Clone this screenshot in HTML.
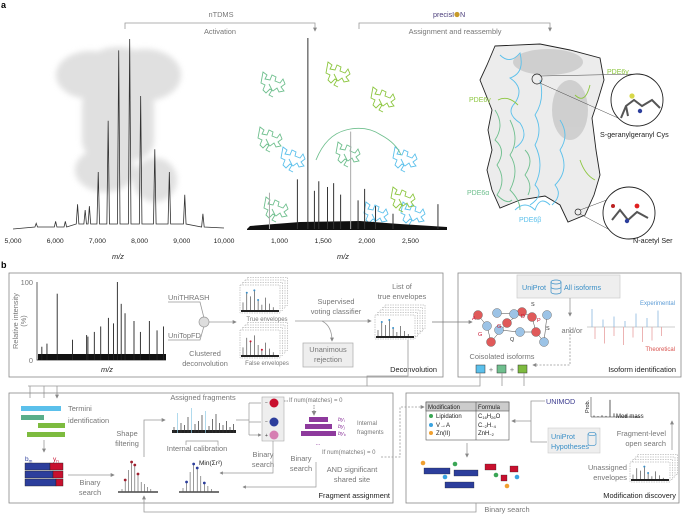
<!DOCTYPE html>
<html><head><meta charset="utf-8">
<style>
html,body{margin:0;padding:0;background:#fff;}
svg{display:block;font-family:"Liberation Sans",sans-serif;}
.t{fill:#777;font-size:7.4px;}
.d{fill:#222;font-size:7.4px;}
</style></head>
<body>
<svg id="fig" width="685" height="515" viewBox="0 0 685 515" xmlns="http://www.w3.org/2000/svg">
<defs>
<filter id="blur" x="-20%" y="-20%" width="140%" height="140%"><feGaussianBlur stdDeviation="3"/></filter>
<marker id="ar" viewBox="0 0 6 6" refX="5" refY="3" markerWidth="5" markerHeight="5" orient="auto"><path d="M0,0L6,3L0,6z" fill="#888"/></marker>
</defs>

<!-- ============ PANEL A ============ -->
<text x="1" y="8" font-size="9" font-weight="bold" fill="#000">a</text>
<g>
<text x="221" y="17" class="t" text-anchor="middle">nTDMS</text>
<path d="M125,29V23H315V31" fill="none" stroke="#999" stroke-width="0.8" marker-end="url(#ar)"/>
<text x="220" y="34" class="t" text-anchor="middle">Activation</text>
</g>
<g>
<text x="433" y="17" font-size="7.2" fill="#4a3d7a">precisI</text><circle cx="457" cy="14.5" r="2.6" fill="#c79a2a"/><text x="460" y="17" font-size="7.2" fill="#4a3d7a">N</text>
<path d="M359,29V23H550V31" fill="none" stroke="#999" stroke-width="0.8" marker-end="url(#ar)"/>
<text x="455" y="34" class="t" text-anchor="middle">Assignment and reassembly</text>
</g>

<!-- blurred protein behind spectrum -->
<g filter="url(#blur)" fill="#d6d6d6" opacity="0.75">
<ellipse cx="90" cy="75" rx="34" ry="24"/><ellipse cx="145" cy="75" rx="36" ry="26"/>
<ellipse cx="118" cy="65" rx="30" ry="18"/>
<rect x="82" y="85" width="72" height="75" rx="20"/>
<ellipse cx="105" cy="170" rx="30" ry="22"/><ellipse cx="155" cy="180" rx="22" ry="22"/>
</g>
<g id="specA1"></g>
<g id="axA1"></g>
<text x="118" y="259" class="d" font-style="italic" text-anchor="middle">m/z</text>

<g id="mols" fill="none" stroke-width="0.9"></g>
<g id="specA2"></g>
<g id="axA2"></g>
<text x="343" y="259" class="d" font-style="italic" text-anchor="middle">m/z</text>

<!-- reassembled structure -->
<g>
<path d="M495,46 L540,44 L570,50 L600,58 L604,80 L598,100 L592,118 L596,150 L600,175 L594,195 L585,215 L568,222 L560,205 L545,196 L520,200 L500,208 L492,190 L487,170 L492,150 L488,130 L492,110 L486,95 L480,80 L487,65 Z" fill="#ececec" stroke="#222" stroke-width="0.9"/>
<g fill="#c4c4c4" opacity="0.7"><ellipse cx="548" cy="62" rx="35" ry="13"/><ellipse cx="570" cy="110" rx="18" ry="30"/></g>
<g stroke="#5bc0eb" stroke-width="0.9" fill="none">
<path d="M500,55 q10,10 20,-2 q5,20 -10,25 q15,10 5,25 q-10,10 5,20 q10,15 -5,25 M540,80 q5,20 -5,35 q8,15 0,30 q10,20 0,40 q10,10 -5,20 M560,120 q10,15 0,30 q10,20 -5,35 q8,10 -3,20 M515,210 q10,-10 20,0 q5,-15 15,-5"/>
</g>
<g stroke="#6fbf8e" stroke-width="0.9" fill="none">
<path d="M495,110 q10,15 0,30 q12,10 2,25 q10,15 0,30 q10,10 15,5 M510,120 q10,20 0,35 q10,15 0,35 q10,10 10,20 M525,150 q10,10 0,25 q8,10 3,20"/>
</g>
<g stroke="#8cc63f" stroke-width="0.9" fill="none"><path d="M575,95 q10,10 15,-10 M580,160 q5,15 15,20 M498,100 q10,-5 20,5"/></g>
<text x="607" y="74" font-size="7" fill="#8cc63f">PDE6γ</text>
<text x="469" y="102" font-size="7" fill="#8cc63f">PDE6γ</text>
<text x="467" y="195" font-size="7" fill="#6fbf8e">PDE6α</text>
<text x="519" y="222" font-size="7" fill="#5bc0eb">PDE6β</text>
<circle cx="537" cy="79" r="5" fill="none" stroke="#222" stroke-width="0.7"/>
<path d="M540,76 L640,74 M540,83 L618,118" stroke="#444" stroke-width="0.5"/>
<circle cx="637" cy="100" r="26" fill="#fff" stroke="#222" stroke-width="0.9"/>
<g stroke="#555" stroke-width="2" fill="none"><path d="M621,118 L626,106 L634,100 L642,106 L652,100 L660,108"/><path d="M626,106 L628,116"/></g>
<circle cx="632" cy="96" r="2.6" fill="#d8d84a"/><circle cx="640" cy="111" r="2.2" fill="#2c3e9c"/>
<text x="600" y="137" font-size="7.2" fill="#222">S-geranylgeranyl Cys</text>
<circle cx="578" cy="212" r="3" fill="none" stroke="#222" stroke-width="0.7"/>
<path d="M580,210 L620,195 M580,214 L625,238" stroke="#444" stroke-width="0.5"/>
<circle cx="629" cy="213" r="26" fill="#fff" stroke="#222" stroke-width="0.9"/>
<g stroke="#555" stroke-width="2" fill="none"><path d="M612,220 L620,210 L628,220 L637,212 L648,218"/></g>
<circle cx="637" cy="206" r="2.4" fill="#e02020"/><circle cx="627" cy="221" r="2.2" fill="#2c3e9c"/><circle cx="613" cy="206" r="2" fill="#b22"/>
<text x="633" y="243" font-size="7.2" fill="#222">N-acetyl Ser</text>
</g>

<!-- ============ PANEL B ============ -->
<text x="1" y="268" font-size="9" font-weight="bold" fill="#000">b</text>

<g>
<rect x="9" y="273" width="434" height="104" fill="none" stroke="#888" stroke-width="0.8"/>
<text x="437" y="372" class="d" text-anchor="end">Deconvolution</text>
<text transform="translate(18,321) rotate(-90)" class="t" text-anchor="middle">Relative intensity</text>
<text transform="translate(26,321) rotate(-90)" class="t" text-anchor="middle">(%)</text>
<text x="33" y="285" class="t" text-anchor="end">100</text>
<text x="33" y="363" class="t" text-anchor="end">0</text>
<text x="107" y="372" class="d" font-style="italic" text-anchor="middle">m/z</text>
<g id="specB"></g>
<path d="M168,302H200L204,318 M168,340H200L204,326" stroke="#999" fill="none" stroke-width="0.8"/>
<text x="168" y="300" class="t">UniTHRASH</text>
<text x="168" y="338" class="t">UniTopFD</text>
<circle cx="204" cy="322" r="5" fill="#ddd" stroke="#999" stroke-width="0.7"/>
<path d="M209,322H236" stroke="#999" stroke-width="0.8" marker-end="url(#ar)"/>
<text x="205" y="356" class="t" text-anchor="middle">Clustered</text>
<text x="205" y="366" class="t" text-anchor="middle">deconvolution</text>
<g id="envTrue"></g>
<text x="267" y="321" font-size="6" fill="#777" text-anchor="middle">True envelopes</text>
<g id="envFalse"></g>
<text x="267" y="365" font-size="6" fill="#777" text-anchor="middle">False envelopes</text>
<text x="336" y="304" class="t" text-anchor="middle">Supervised</text>
<text x="336" y="314" class="t" text-anchor="middle">voting classifier</text>
<path d="M295,321H371" stroke="#999" stroke-width="0.8" marker-end="url(#ar)"/>
<path d="M322,321Q332,326 332,341" stroke="#999" fill="none" stroke-width="0.8" marker-end="url(#ar)"/>
<rect x="303" y="343" width="50" height="24" fill="#eee" stroke="#aaa" stroke-width="0.7"/>
<text x="328" y="352" class="t" text-anchor="middle">Unanimous</text>
<text x="328" y="362" class="t" text-anchor="middle">rejection</text>
<text x="402" y="289" class="t" text-anchor="middle">List of</text>
<text x="402" y="299" class="t" text-anchor="middle">true envelopes</text>
<g id="envList"></g>
<path d="M432,322H472" stroke="#777" stroke-width="0.8" marker-end="url(#ar)"/>
</g>

<g>
<rect x="458" y="273" width="223" height="104" fill="none" stroke="#888" stroke-width="0.8"/>
<text x="676" y="372" class="d" text-anchor="end">Isoform identification</text>
<rect x="517" y="275" width="103" height="23" fill="#eee" stroke="#ccc" stroke-width="0.7"/>
<text x="522" y="290" font-size="7.2" fill="#3a8fc7">UniProt</text>
<ellipse cx="556" cy="282" rx="5" ry="2" fill="none" stroke="#3a8fc7" stroke-width="0.7"/>
<path d="M551,282V292A5,2 0 0 0 561,292V282M551,287A5,2 0 0 0 561,287" fill="none" stroke="#3a8fc7" stroke-width="0.7"/>
<text x="564" y="290" font-size="7.2" fill="#3a8fc7">All isoforms</text>
<path d="M570,298V316" stroke="#999" stroke-width="0.8" marker-end="url(#ar)"/>
<path d="M570,327V365H533" stroke="#999" stroke-dasharray="2,1.5" fill="none" stroke-width="0.8" marker-end="url(#ar)"/>
<text x="572" y="333" class="t" text-anchor="middle">and/or</text>
<g id="graph"></g>
<g id="mirror"></g>
<text x="675" y="305" font-size="6" fill="#5b9bd5" text-anchor="end">Experimental</text>
<text x="675" y="351" font-size="6" fill="#d9534f" text-anchor="end">Theoretical</text>
<text x="502" y="359" class="t" text-anchor="middle">Coisolated isoforms</text>
<rect x="476" y="365" width="9" height="8" fill="#5bc0eb" stroke="#333" stroke-width="0.5"/>
<text x="491" y="372" class="t" text-anchor="middle">+</text>
<rect x="497" y="365" width="9" height="8" fill="#6fbf8e" stroke="#333" stroke-width="0.5"/>
<text x="512" y="372" class="t" text-anchor="middle">+</text>
<rect x="518" y="365" width="9" height="8" fill="#7dbb3f" stroke="#333" stroke-width="0.5"/>
</g>

<g stroke="#999" stroke-width="0.8" fill="none">
<path d="M408,340V376H367V386H28"/>
<path d="M480,373V386H367 M502,373V386 M524,373V386"/>
<path d="M30,386V398 M44,386V398 M57,386V398" marker-end="url(#ar)"/>
</g>

<g>
<rect x="9" y="393" width="384" height="110" fill="none" stroke="#888" stroke-width="0.8"/>
<text x="390" y="498" class="d" text-anchor="end">Fragment assignment</text>
<rect x="21" y="406" width="40" height="5" fill="#5bc0eb"/>
<rect x="21" y="415" width="23" height="5" fill="#5aae8a"/>
<rect x="38" y="423" width="27" height="5" fill="#7dbb3f"/>
<rect x="27" y="432" width="38" height="5" fill="#7dbb3f"/>
<text x="68" y="411" class="t">Termini</text>
<text x="68" y="423" class="t">identification</text>
<path d="M44,440V452" stroke="#999" stroke-width="0.8" marker-end="url(#ar)"/>
<text x="25" y="461" font-size="6.5" fill="#2c3e9c">b<tspan font-size="4.5" dy="1.5">m</tspan></text>
<text x="53" y="461" font-size="6.5" fill="#c8102e">y<tspan font-size="4.5" dy="1.5">n</tspan></text>
<g stroke="#222" stroke-width="0.4">
<rect x="25" y="463" width="25" height="7" fill="#2c3e9c"/><rect x="50" y="463" width="13" height="7" fill="#c8102e"/>
<rect x="25" y="471" width="28" height="7" fill="#2c3e9c"/><rect x="53" y="471" width="10" height="7" fill="#c8102e"/>
<rect x="25" y="479" width="31" height="7" fill="#2c3e9c"/><rect x="56" y="479" width="7" height="7" fill="#c8102e"/>
</g>
<path d="M68,475H114" stroke="#999" stroke-width="0.8" marker-end="url(#ar)"/>
<text x="90" y="485" class="t" text-anchor="middle">Binary</text>
<text x="90" y="495" class="t" text-anchor="middle">search</text>
<g id="fs1"></g>
<g id="fs2"></g>
<text x="199" y="465" font-size="6.5" fill="#222">Min(Σr²)</text>
<text x="127" y="436" class="t" text-anchor="middle">Shape</text>
<text x="127" y="446" class="t" text-anchor="middle">filtering</text>
<path d="M144,457V420H165" stroke="#999" stroke-width="0.8" fill="none" marker-end="url(#ar)"/>
<text x="203" y="400" class="t" text-anchor="middle">Assigned fragments</text>
<g id="asg"></g>
<path d="M186,445V441H218V445" stroke="#999" fill="none" stroke-width="0.7"/>
<text x="197" y="451" class="t" text-anchor="middle">Internal calibration</text>
<path d="M236,420H249V435 M249,403V420" stroke="#999" fill="none" stroke-width="0.7"/>
<path d="M249,403H261 M249,422H261 M249,435H261" stroke="#999" stroke-width="0.7" marker-end="url(#ar)"/>
<rect x="262" y="397" width="22" height="44" fill="#eee" stroke="#aaa" stroke-width="0.6"/>
<circle cx="274" cy="403" r="4.5" fill="#c8102e"/><circle cx="274" cy="422" r="4.5" fill="#2c3e9c"/><circle cx="274" cy="435" r="4.5" fill="#d67fb2"/>
<text x="265" y="404" font-size="5" fill="#333">−</text><text x="265" y="423" font-size="5" fill="#333">−</text><text x="265" y="437" font-size="5" fill="#333">+</text>
<text x="263" y="457" class="t" text-anchor="middle">Binary</text>
<text x="263" y="467" class="t" text-anchor="middle">search</text>
<path d="M273,441V473H220" stroke="#999" fill="none" stroke-width="0.7" marker-end="url(#ar)"/>
<path d="M284,401H288" stroke="#999" stroke-dasharray="1.5,1"/>
<text x="289" y="402" font-size="6" fill="#777">If num(matches) = 0</text>
<path d="M314,405V415" stroke="#999" stroke-dasharray="1.5,1" marker-end="url(#ar)"/>
<g fill="#8e3a9d"><rect x="309" y="417" width="19" height="5"/><rect x="305" y="424" width="27" height="5"/><rect x="301" y="431" width="35" height="5"/></g>
<text x="318" y="445" font-size="6" fill="#8e3a9d" text-anchor="middle">...</text>
<g font-size="5.5" fill="#8e3a9d" font-style="italic"><text x="338" y="421">by<tspan font-size="4" dy="1">i</tspan></text><text x="338" y="428">by<tspan font-size="4" dy="1">j</tspan></text><text x="338" y="435">by<tspan font-size="4" dy="1">k</tspan></text></g>
<text x="357" y="425" font-size="6" fill="#777">Internal</text>
<text x="357" y="434" font-size="6" fill="#777">fragments</text>
<text x="301" y="461" class="t" text-anchor="middle">Binary</text>
<text x="301" y="471" class="t" text-anchor="middle">search</text>
<text x="322" y="454" font-size="6" fill="#777">If num(matches) = 0</text>
<text x="352" y="472" class="t" text-anchor="middle">AND significant</text>
<text x="352" y="482" class="t" text-anchor="middle">shared site</text>
<path d="M316,462V487H243" stroke="#999" fill="none" stroke-width="0.7" marker-end="url(#ar)"/>
</g>
<path d="M381,457H400V407H424" stroke="#999" stroke-dasharray="2,1.5" fill="none" stroke-width="0.8" marker-end="url(#ar)"/>

<g>
<rect x="406" y="393" width="273" height="110" fill="none" stroke="#888" stroke-width="0.8"/>
<text x="676" y="498" class="d" text-anchor="end">Modification discovery</text>
<g>
<rect x="426" y="402" width="83" height="38" fill="#fff" stroke="#555" stroke-width="0.6"/>
<rect x="426" y="402" width="83" height="9" fill="#ccc" stroke="#555" stroke-width="0.6"/>
<path d="M476,402V440" stroke="#555" stroke-width="0.6"/>
<text x="428" y="409" font-size="6" fill="#222">Modification</text><text x="478" y="409" font-size="6" fill="#222">Formula</text>
<circle cx="431" cy="416" r="2" fill="#3aa655"/><text x="436" y="418" font-size="6" fill="#222">Lipidation</text>
<circle cx="431" cy="425" r="2" fill="#3aa3e0"/><text x="436" y="427" font-size="6" fill="#222">V→A</text>
<circle cx="431" cy="433" r="2" fill="#f0a030"/><text x="436" y="435" font-size="6" fill="#222">Zn(II)</text>
<text x="478" y="418" font-size="6" fill="#222">C<tspan font-size="4" dy="1">16</tspan><tspan dy="-1">H</tspan><tspan font-size="4" dy="1">26</tspan><tspan dy="-1">O</tspan></text>
<text x="478" y="427" font-size="6" fill="#222">C<tspan font-size="4" dy="1">−2</tspan><tspan dy="-1">H</tspan><tspan font-size="4" dy="1">−4</tspan></text>
<text x="478" y="435" font-size="6" fill="#222">ZnH<tspan font-size="4" dy="1">−2</tspan></text>
</g>
<path d="M467,443V457" stroke="#999" stroke-width="0.8" marker-end="url(#ar)"/>
<g stroke="#222" stroke-width="0.3">
<rect x="424" y="468" width="26" height="6" fill="#2c3e9c"/><rect x="454" y="470" width="24" height="6" fill="#2c3e9c"/><rect x="445" y="482" width="29" height="6" fill="#2c3e9c"/>
<rect x="485" y="464" width="11" height="6" fill="#c8102e"/><rect x="501" y="475" width="6" height="6" fill="#c8102e"/><rect x="510" y="466" width="8" height="6" fill="#c8102e"/>
</g>
<circle cx="423" cy="463" r="2.3" fill="#f0a030"/><circle cx="455" cy="464" r="2.3" fill="#3aa655"/><circle cx="445" cy="477" r="2.3" fill="#3aa3e0"/>
<circle cx="496" cy="475" r="2.3" fill="#3aa655"/><circle cx="507" cy="486" r="2.3" fill="#f0a030"/><circle cx="517" cy="477" r="2.3" fill="#3aa3e0"/>
<text x="546" y="404" font-size="7.2" fill="#3b3b8f">UNIMOD</text>
<path d="M545,401H531V442H547" stroke="#999" fill="none" stroke-width="0.8"/>
<path d="M531,421H512" stroke="#999" stroke-width="0.8" marker-end="url(#ar)"/>
<rect x="548" y="428" width="52" height="25" fill="#eee" stroke="#ccc" stroke-width="0.6"/>
<text x="551" y="439" font-size="7.2" fill="#3a8fc7">UniProt</text>
<text x="551" y="449" font-size="7.2" fill="#3a8fc7">Hypotheses</text>
<ellipse cx="592" cy="434" rx="4" ry="1.7" fill="none" stroke="#3a8fc7" stroke-width="0.6"/>
<path d="M588,434V444A4,1.7 0 0 0 596,444V434" fill="none" stroke="#3a8fc7" stroke-width="0.6"/>
<text transform="translate(589,413) rotate(-90)" font-size="5.5" fill="#222">Prob.</text>
<g id="hist"></g>
<text x="616" y="418" font-size="6" fill="#222">Mod mass</text>
<text x="666" y="436" class="t" text-anchor="end">Fragment-level</text>
<text x="666" y="446" class="t" text-anchor="end">open search</text>
<path d="M672,450V421" stroke="#999" stroke-width="0.8" marker-end="url(#ar)"/>
<text x="627" y="470" class="t" text-anchor="end">Unassigned</text>
<text x="627" y="480" class="t" text-anchor="end">envelopes</text>
<g id="envUn"></g>
</g>

<g>
<path d="M476,503V512H144V496" stroke="#999" fill="none" stroke-width="0.8" marker-end="url(#ar)"/>
<text x="507" y="512" class="t" text-anchor="middle" style="paint-order:stroke" stroke="#fff" stroke-width="3">Binary search</text>
</g>
</svg>

<script>
// ---------- DATA ----------
const intactMz = [5550,6010,6240,6530,6710,6810,7020,7255,7505,7765,8025,8360,8705,9070,9500];
const intactInt = [3,4,4,13,10,12,30,57,94,100,70,42,30,18,8];
const intactTicks = [5000,6000,7000,8000,9000,10000];
const intactTickLabels = ["5,000","6,000","7,000","8,000","9,000","10,000"];

const fragMz = [885,1205,1325,1400,1450,1550,1620,1700,1815,1900,1975,2100,2300,2815];
const fragInt = [19,26,100,20,25,22,24,18,51,15,21,12,8,13];
const fragGray = [1,0,0,0,0,0,0,0,1,0,0,0,0,0];
const fragTicks = [1000,1500,2000,2500];
const fragTickLabels = ["1,000","1,500","2,000","2,500"];

const rawPos = [3,7,15,27,38,39,44,49,55,59,62,65,68,75,80,87,93,98];
const rawInt = [17,21,85,26,32,30,36,43,54,47,100,72,60,50,36,50,38,43];

const mirrorExp = [60,25,35,20,45,30,55];
const mirrorTheo = [40,55,30,60,35,50,45,30];

const modHist = [8,5,10,6,95,20,8,6,12,4];

const NS = "http://www.w3.org/2000/svg";
function mk(tag, attrs, parent){ const e=document.createElementNS(NS,tag); for(const k in attrs) e.setAttribute(k,attrs[k]); parent.appendChild(e); return e; }

(function(){
  const g=document.getElementById('specA1'), ax=document.getElementById('axA1');
  const xS=m=>13+(m-5000)*211/5000, yS=v=>229-v*1.9;
  let d="M13,229";
  intactMz.forEach((m,i)=>{ const x=xS(m); const b=m>6300&&m<9200?224:227; d+=` L${x-1.3},${b} L${x},${yS(intactInt[i])} L${x+1.3},${b}`; });
  d+=" L224,228";
  const p=mk('path',{d:d,fill:'none',stroke:'#333','stroke-width':0.8},g);
  
  
  intactTicks.forEach((t,i)=>{ const tx=mk('text',{x:xS(t),y:243,'text-anchor':'middle','font-size':6.8,fill:'#222'},ax); tx.textContent=intactTickLabels[i];
      });
})();

(function(){
  const g=document.getElementById('specA2'), ax=document.getElementById('axA2');
  const xS=m=>279.5+(m-1000)*0.0873, yS=v=>229-v*1.91;
  mk('path',{d:"M247,229 L250,226 L300,222 L360,221 L400,224 L447,227 L447,230 L247,230Z",fill:'#111'},g);
  fragMz.forEach((m,i)=>{ const l=mk('line',{x1:xS(m),x2:xS(m),y1:229,y2:yS(fragInt[i]),stroke:fragGray[i]?'#aaa':'#333','stroke-width':1},g);
      });
  fragTicks.forEach((t,i)=>{ const tx=mk('text',{x:xS(t),y:243,'text-anchor':'middle','font-size':6.8,fill:'#222'},ax); tx.textContent=fragTickLabels[i];
      });
})();

(function(){
  const g=document.getElementById('mols');
  const shapes=[[275,80,'#6fbf8e'],[340,70,'#8cc63f'],[385,95,'#8cc63f'],[272,135,'#6fbf8e'],[295,155,'#5bc0eb'],[350,150,'#6fbf8e'],[407,155,'#5bc0eb'],[278,205,'#6fbf8e'],[378,210,'#5bc0eb'],[415,210,'#5bc0eb'],[405,195,'#8cc63f']];
  shapes.forEach(s=>{ const [cx,cy,c]=s;
    mk('path',{d:`M${cx-12},${cy-8} l4,3 l-2,4 l5,1 l2,-5 l4,2 l-1,4 l5,2 l3,-4 l2,5 l-4,3 l3,4 l-5,1 l-2,-4 l-4,3 l-3,-2 l-4,4 l-3,-3 l2,-5 l-4,-2 z M${cx-6},${cy+4} l3,6 l-3,5 l4,2`,stroke:c},g); });
  mk('path',{d:"M316,160 q10,-25 30,-30 q20,-5 35,5 q15,8 20,20",stroke:'#6fbf8e'},g);
})();

(function(){
  const g=document.getElementById('specB');
  mk('path',{d:"M37,282V360H166",stroke:'#222',fill:'none','stroke-width':0.7},g);
  mk('rect',{x:38,y:354,width:128,height:6,fill:'#111'},g);
  const xS=p=>38+p*1.28, yS=v=>360-v*0.78;
  rawPos.forEach((p,i)=>{ const l=mk('line',{x1:xS(p),x2:xS(p),y1:360,y2:yS(rawInt[i]),stroke:'#222','stroke-width':0.9},g);
      });
})();

function envStack(id,x,y,w,h,n,dots){
  const g=document.getElementById(id);
  for(let i=n-1;i>=0;i--){ mk('rect',{x:x+i*2.5,y:y-i*2.5,width:w,height:h,fill:'#fff',stroke:'#999','stroke-dasharray':'1.5,1','stroke-width':0.5},g); }
  const heights=[0.4,0.8,0.65,0.9,0.5,0.3,0.6,0.35,0.2];
  heights.forEach((v,i)=>{ const lx=x+3+i*(w-6)/heights.length; mk('line',{x1:lx,x2:lx,y1:y+h-1,y2:y+h-1-v*(h-4),stroke:'#333','stroke-width':0.6},g); });
  mk('rect',{x:x+1,y:y+h-3,width:w-2,height:2,fill:'#222'},g);
  if(dots) dots.forEach(d=>mk('circle',{cx:x+3+d[0]*(w-6)/heights.length,cy:y+h-1-d[1]*(h-4),r:1,fill:d[2]},g));
}
envStack('envTrue',240,285,40,28,4,[[1,0.8,'#3a8fc7'],[3,0.9,'#3a8fc7'],[4,0.5,'#3a8fc7']]);
envStack('envFalse',240,330,40,28,4,[[2,0.65,'#c8102e'],[5,0.3,'#c8102e']]);
envStack('envList',375,315,40,24,5,[[1,0.8,'#3a8fc7'],[3,0.9,'#3a8fc7'],[4,0.5,'#3a8fc7']]);
envStack('envUn',630,462,40,20,4,[[3,0.9,'#3a8fc7'],[4,0.5,'#3a8fc7']]);

(function(){
  const g=document.getElementById('graph');
  const red=[[478,315],[491,342],[507,323],[522,312],[532,317],[536,332]];
  const blue=[[497,313],[514,314],[499,330],[520,332],[547,315],[544,342],[487,326]];
  mk('path',{d:"M478,315L487,326L491,342L507,323L522,312L532,317L536,332L544,342L547,315 M497,313L514,314L522,312 M499,330L520,332L536,332",stroke:'#444','stroke-width':0.5,fill:'none'},g);
  red.forEach(p=>mk('circle',{cx:p[0],cy:p[1],r:4.5,fill:'#e05a5a',stroke:'#555','stroke-width':0.4},g));
  blue.forEach(p=>mk('circle',{cx:p[0],cy:p[1],r:4.5,fill:'#9cc3e6',stroke:'#555','stroke-width':0.4},g));
  [["A",472,320],["G",478,336],["G",497,328],["D",521,318],["P",537,322],["S",531,306],["S",546,330],["Q",510,341]].forEach(t=>{const e=mk('text',{x:t[1],y:t[2],'font-size':5.5,fill:t[0]==='S'||t[0]==='Q'?'#333':'#c8102e'},g); e.textContent=t[0];});
})();

(function(){
  const g=document.getElementById('mirror');
  mk('line',{x1:587,x2:675,y1:327,y2:327,stroke:'#999','stroke-width':0.6},g);
  mirrorExp.forEach((v,i)=>{ const x=592+i*11; mk('line',{x1:x,x2:x,y1:327,y2:327-v*0.3,stroke:'#8ab8e0','stroke-width':0.8},g); });
  mirrorTheo.forEach((v,i)=>{ const x=595+i*9.5; mk('line',{x1:x,x2:x,y1:327,y2:327+v*0.3,stroke:'#e8a0a0','stroke-width':0.8},g); });
})();

function miniSpec(id,x0,w,base,vals,dots,dotColor){
  const g=document.getElementById(id);
  mk('line',{x1:x0,x2:x0+w,y1:base,y2:base,stroke:'#222','stroke-width':1.2},g);
  vals.forEach((v,i)=>{ const x=x0+4+i*(w-8)/vals.length; mk('line',{x1:x,x2:x,y1:base,y2:base-v,stroke:'#555','stroke-width':0.6},g);
    if(dots.includes(i)) mk('circle',{cx:x,cy:base-v,r:1.4,fill:dotColor},g); });
}
miniSpec('fs1',118,40,492,[3,12,22,30,27,18,10,8,5,3],[1,3,4,5],'#a02030');
miniSpec('fs2',179,40,492,[4,10,20,28,24,16,9,6,3],[1,3,4,6],'#2c3e9c');
(function(){
  const g=document.getElementById('asg');
  const vals=[6,20,10,8,16,25,9,12,18,22,7,14,19,10,8,12,6,9];
  const blue=[1,5,9];
  mk('rect',{x:172,y:430,width:64,height:3,fill:'#222'},g);
  vals.forEach((v,i)=>{ const x=174+i*3.5; mk('line',{x1:x,x2:x,y1:433,y2:433-v,stroke:blue.includes(i)?'#8ecae6':'#333','stroke-width':0.7},g); });
})();
(function(){
  const g=document.getElementById('hist');
  mk('path',{d:"M591,397V417H640",stroke:'#222',fill:'none','stroke-width':0.5},g);
  modHist.forEach((v,i)=>{ const x=594+i*4; mk('line',{x1:x,x2:x,y1:417,y2:417-v*0.18,stroke:'#333','stroke-width':0.8},g); });
})();
</script>
</body></html>
